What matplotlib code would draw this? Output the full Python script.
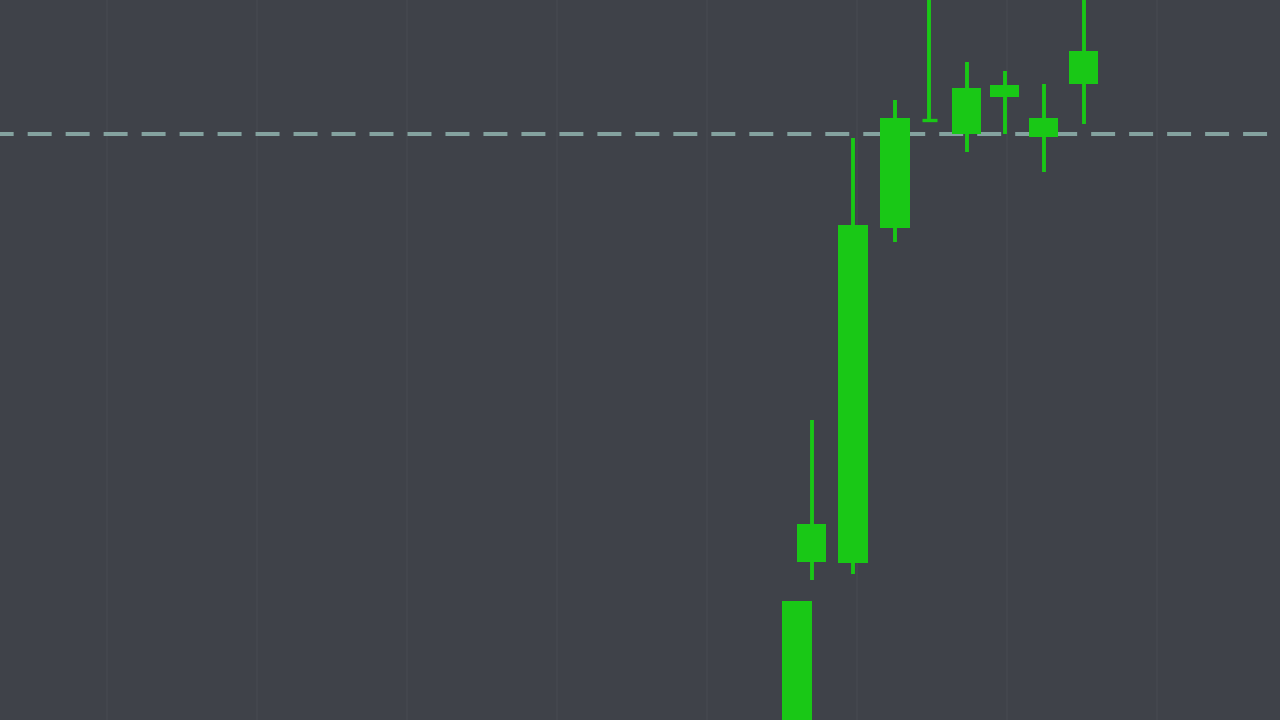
import matplotlib
matplotlib.use('Agg')
import matplotlib.pyplot as plt

# candle data (time position, OHLC)
t = [797, 811.5, 853, 895, 929, 966.5, 1004.5, 1043.5, 1083.5]
opens = [-40, 158, 157, 492, 599, 586, 623, 583, 636]
closes = [119, 196, 495, 602, 601, 632, 635, 602, 669]
highs = [119, 300, 582, 620, 760, 658, 649, 636, 760]
lows = [-40, 140, 146, 478, 599, 568, 586, 548, 596]

level = 586
grid_x = [107, 257, 407, 557, 707, 857, 1007, 1157]

BG = '#3f4249'
GREEN = '#19c816'

fig = plt.figure(figsize=(12.8, 7.2), dpi=100)
fig.patch.set_facecolor(BG)
ax = fig.add_axes([0, 0, 1, 1])
ax.set_facecolor(BG)
ax.set_xlim(0, 1280)
ax.set_ylim(0, 720)
ax.axis('off')

# faint vertical grid
for gx in grid_x:
    ax.axvline(gx, color='#44474e', lw=1.2, zorder=0)

# dashed level line
ax.axhline(level, color='#84a29f', lw=2.9, linestyle=(2.56, (5.95, 3.48)), zorder=1)

for x, o, c, h, l in zip(t, opens, closes, highs, lows):
    body = abs(c - o)
    ax.vlines(x, l, h, color=GREEN, lw=2.8, zorder=2)
    if body < 4:
        # doji: thin tick
        ax.hlines((o + c) / 2, x - 7.5, x + 7.5, color=GREEN, lw=2.4, zorder=3)
    else:
        ax.bar(x, body, bottom=min(o, c), width=29.5, color=GREEN, zorder=3)

fig.savefig('out.png', dpi=100, facecolor=BG)
